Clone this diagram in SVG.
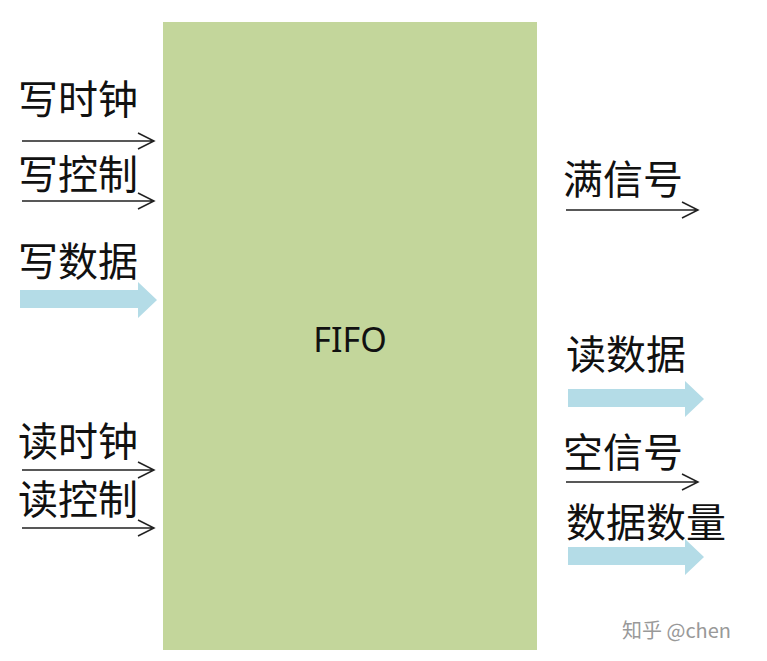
<svg xmlns="http://www.w3.org/2000/svg" width="767" height="661" viewBox="0 0 767 661">
<style>
text{font-family:"Noto Sans CJK SC","Liberation Sans",sans-serif;font-size:40px;fill:#111}
.t{stroke:#222;stroke-width:1.5;fill:none}
.b{fill:#b4dce7}
</style>
<rect width="767" height="661" fill="#fff"/>
<g id="fifo"><rect x="163" y="22" width="374" height="628" fill="#c3d69b"/>
<text x="350" y="352" text-anchor="middle" style="font-family:'Noto Sans','Liberation Sans',sans-serif;font-size:34px">FIFO</text></g>
<g id="labels">
<text x="18" y="114">写时钟</text>
<text x="18" y="189">写控制</text>
<text x="18" y="276">写数据</text>
<text x="18" y="456">读时钟</text>
<text x="18" y="514">读控制</text>
<text x="563" y="194">满信号</text>
<text x="566" y="369">读数据</text>
<text x="563" y="467">空信号</text>
<text x="566" y="537">数据数量</text>
</g>
<g id="connectors">
<path class="t" d="M22 141H154M138 133L154 141L138 149"/>
<path class="t" d="M22 201H154M138 193L154 201L138 209"/>
<path class="t" d="M22 470H154M138 462L154 470L138 478"/>
<path class="t" d="M22 528H154M138 520L154 528L138 536"/>
<path class="t" d="M566 210H698M682 202L698 210L682 218"/>
<path class="t" d="M566 482H698M682 474L698 482L682 490"/>
<path class="b" d="M20 290H138V282L157 300L138 318V308H20Z"/>
<path class="b" d="M568 389H685V381L704 399L685 417V407H568Z"/>
<path class="b" d="M568 547H685V539L704 557L685 575V565H568Z"/>
</g>
<text x="622" y="638" style="font-size:20px;fill:#999">知乎 @chen</text>
</svg>
